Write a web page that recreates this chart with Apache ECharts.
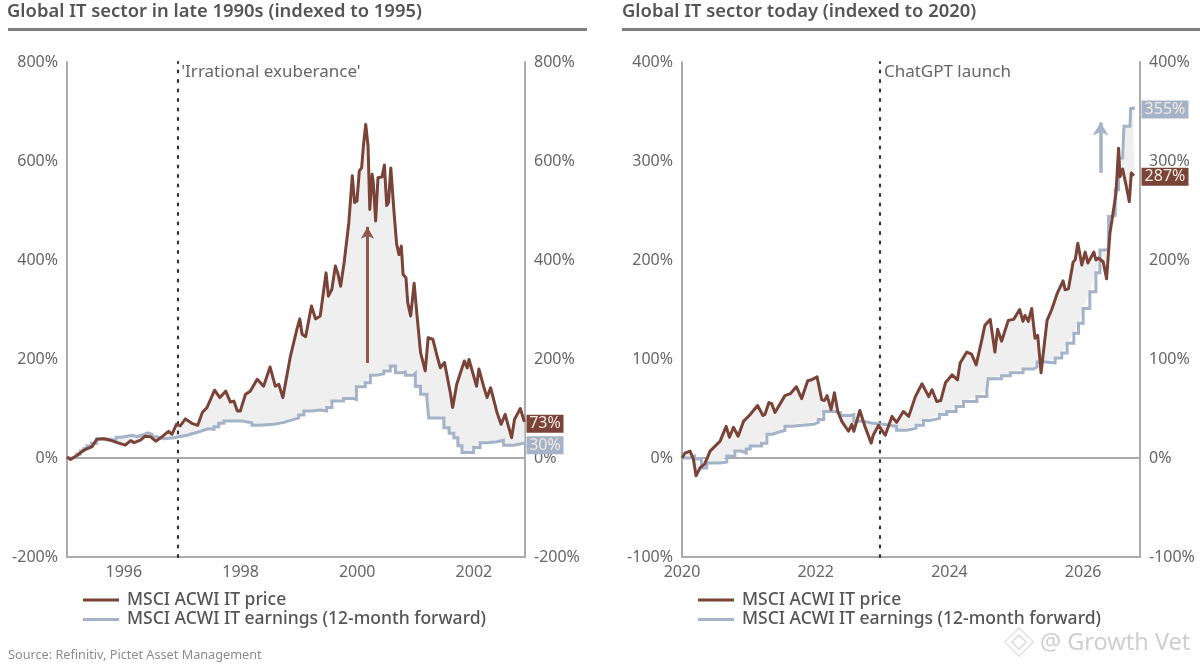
<!DOCTYPE html>
<html><head><meta charset="utf-8">
<style>html,body{margin:0;padding:0;background:#fff}#c{width:1200px;height:667px}</style>
<script src="https://cdn.jsdelivr.net/npm/echarts@6/dist/echarts.min.js"></script>
</head><body><div id="c"></div>
<script>
const titleLeft = "Global IT sector in late 1990s (indexed to 1995)";
const titleRight = "Global IT sector today (indexed to 2020)";
const sourceText = "Source: Refinitiv, Pictet Asset Management";
const watermark = "@ Growth Vet";
const priceName = "MSCI ACWI IT price";
const earningsName = "MSCI ACWI IT earnings (12-month forward)";
const eventLeft = {year: 1996.89, text: "'Irrational exuberance'", textAt: 780};
const eventRight = {year: 2022.96, text: "ChatGPT launch", textAt: 390};
const endLeft = [73, 30];
const endRight = [287, 355];
const arrowLeft = [2000.15, 192, 467];
const arrowRight = [2026.26, 288, 339];

const leftPrice = [[1995,2],[1995.06,-3],[1995.17,5],[1995.29,16],[1995.43,23],[1995.51,38],[1995.63,39],[1995.74,36],[1995.86,31],[1996,26],[1996.09,35],[1996.15,31],[1996.26,36],[1996.34,44],[1996.43,43],[1996.52,34],[1996.63,43],[1996.74,54],[1996.8,48],[1996.875,68],[1996.94,65],[1997.03,79],[1997.14,70],[1997.24,66],[1997.32,92],[1997.4,102],[1997.53,137],[1997.62,122],[1997.72,135],[1997.8,113],[1997.86,115],[1997.92,95],[1997.97,95],[1998.06,129],[1998.14,135],[1998.26,159],[1998.37,145],[1998.48,184],[1998.57,145],[1998.63,149],[1998.7,122],[1998.83,206],[1998.94,260],[1998.99,281],[1999.03,250],[1999.09,245],[1999.19,307],[1999.26,281],[1999.34,287],[1999.44,374],[1999.48,327],[1999.54,341],[1999.6,388],[1999.64,374],[1999.69,347],[1999.75,395],[1999.83,475],[1999.89,570],[1999.93,516],[1999.97,519],[2000.01,580],[2000.05,586],[2000.08,630],[2000.12,674],[2000.16,630],[2000.19,502],[2000.23,573],[2000.25,556],[2000.29,479],[2000.33,566],[2000.4,568],[2000.44,592],[2000.48,510],[2000.51,516],[2000.55,586],[2000.61,489],[2000.65,432],[2000.69,411],[2000.73,428],[2000.76,371],[2000.81,364],[2000.84,314],[2000.89,287],[2000.95,353],[2001,287],[2001.06,213],[2001.14,176],[2001.19,243],[2001.27,240],[2001.35,203],[2001.4,182],[2001.47,193],[2001.57,132],[2001.61,102],[2001.68,149],[2001.81,196],[2001.86,182],[2001.89,199],[2002.02,145],[2002.06,180],[2002.14,145],[2002.2,122],[2002.26,142],[2002.37,92],[2002.44,68],[2002.51,88],[2002.62,41],[2002.67,78],[2002.77,100],[2002.84,73]];

const leftEarnings = [[1995,0],[1995.11,3],[1995.17,8],[1995.23,14],[1995.29,19],[1995.34,24],[1995.42,30],[1995.51,39],[1995.63,38],[1995.74,36],[1995.84,42],[1995.94,46],[1996.11,43],[1996.2,47],[1996.31,51],[1996.38,48],[1996.46,43],[1996.54,39],[1996.66,41],[1996.83,44],[1996.97,46],[1997.06,49],[1997.14,52],[1997.24,56],[1997.34,59],[1997.42,58],[1997.52,63],[1997.6,70],[1997.69,75],[1997.86,75],[1998,71],[1998.17,66],[1998.3,68],[1998.54,70],[1998.63,72],[1998.72,75],[1998.8,78],[1998.89,81],[1998.97,87],[1999.06,95],[1999.2,97],[1999.34,95],[1999.45,102],[1999.54,115],[1999.74,120],[1999.91,118],[1999.96,144],[2000.11,152],[2000.2,167],[2000.3,170],[2000.43,176],[2000.54,186],[2000.63,172],[2000.74,174],[2000.8,167],[2000.93,171],[2000.97,145],[2001.06,129],[2001.17,118],[2001.2,81],[2001.41,81],[2001.46,61],[2001.55,50],[2001.63,41],[2001.7,25],[2001.77,11],[2001.86,11],[2001.97,21],[2002.08,31],[2002.2,33],[2002.37,36],[2002.48,26],[2002.66,30],[2002.84,28]];

const rightPrice = [[2020,0],[2020.045,5],[2020.12,7],[2020.17,-1],[2020.21,-18],[2020.27,-10],[2020.34,-6],[2020.42,7],[2020.57,17],[2020.66,32],[2020.71,21],[2020.77,31],[2020.84,22],[2020.92,37],[2021.02,44],[2021.13,53],[2021.21,43],[2021.24,44],[2021.3,56],[2021.34,55],[2021.39,46],[2021.54,63],[2021.62,65],[2021.71,72],[2021.79,60],[2021.88,78],[2021.94,79],[2022.02,82],[2022.09,59],[2022.13,58],[2022.17,63],[2022.23,49],[2022.28,66],[2022.33,47],[2022.39,37],[2022.49,27],[2022.54,34],[2022.57,27],[2022.66,48],[2022.74,31],[2022.83,15],[2022.86,23],[2022.94,33],[2023.04,23],[2023.14,42],[2023.21,36],[2023.31,47],[2023.39,42],[2023.49,62],[2023.59,75],[2023.69,62],[2023.74,69],[2023.81,57],[2023.87,58],[2023.94,76],[2024.04,84],[2024.12,79],[2024.16,96],[2024.26,107],[2024.33,105],[2024.4,94],[2024.48,118],[2024.53,134],[2024.61,140],[2024.68,107],[2024.72,130],[2024.78,118],[2024.88,139],[2024.96,140],[2025.05,150],[2025.1,138],[2025.13,144],[2025.18,138],[2025.23,151],[2025.28,121],[2025.32,124],[2025.37,86],[2025.46,139],[2025.53,150],[2025.61,166],[2025.7,179],[2025.73,170],[2025.78,171],[2025.85,198],[2025.88,200],[2025.92,217],[2025.98,195],[2026.03,208],[2026.07,197],[2026.16,208],[2026.19,200],[2026.23,202],[2026.3,198],[2026.35,181],[2026.4,227],[2026.43,240],[2026.49,267],[2026.53,313],[2026.55,284],[2026.59,292],[2026.64,276],[2026.69,259],[2026.72,288],[2026.76,285]];

const rightEarnings = [[2020,0],[2020.12,2],[2020.19,-1],[2020.29,-10],[2020.37,-5],[2020.57,-4],[2020.67,2],[2020.79,7],[2020.89,5],[2020.96,9],[2021.02,12],[2021.19,15],[2021.27,24],[2021.35,26],[2021.44,28],[2021.54,32],[2021.64,34],[2021.97,36],[2022.04,39],[2022.12,47],[2022.27,46],[2022.37,43],[2022.52,44],[2022.57,37],[2022.71,35],[2022.86,34],[2023.01,32],[2023.21,28],[2023.36,30],[2023.5,33],[2023.61,38],[2023.71,40],[2023.85,44],[2023.96,47],[2024.1,52],[2024.21,57],[2024.41,62],[2024.56,69],[2024.58,80],[2024.78,83],[2024.91,86],[2025.1,90],[2025.26,92],[2025.31,97],[2025.43,96],[2025.58,101],[2025.68,106],[2025.76,116],[2025.86,126],[2025.93,136],[2026,151],[2026.1,168],[2026.19,187],[2026.25,210],[2026.34,211],[2026.38,244],[2026.43,245],[2026.48,271],[2026.53,303],[2026.59,303],[2026.61,335],[2026.7,336],[2026.71,353],[2026.75,355]];

const yLeft = {min:-200, max:800, interval:200};
const yRight = {min:-100, max:400, interval:100};
const xLeft = {min:1995, max:2002.85};
const xRight = {min:2020, max:2026.85};

const FONT = '"Noto Sans"';
const BROWN = '#7a4338', BLUE = '#a4b3c8', AXIS = '#ababab', TXT = '#666666';

function band(a, b) {
  return (params, api) => {
    if (params.dataIndex !== 0) return null;
    const pts = a.concat(b.slice().reverse()).map(p => api.coord(p));
    return {type:'polygon', shape:{points:pts}, style:{fill:'#efefef'}};
  };
}
const pctLabel = {formatter:'{value}%', color:TXT, fontFamily:FONT, fontSize:16, margin:9};
function xAxes(ext, gi) {
  return [{type:'value', gridIndex:gi, min:ext.min, max:ext.max, interval:1, position:'bottom',
      axisLine:{onZero:false, lineStyle:{color:AXIS,width:2}}, axisTick:{show:false}, splitLine:{show:false},
      axisLabel:{color:TXT, fontFamily:FONT, fontSize:16, margin:7, showMinLabel:true, padding: gi===0 ? [0,3,0,0] : 0,
        formatter:v => (Number.isInteger(v) && v%2===0) ? String(v) : ''}},
    {type:'value', gridIndex:gi, min:ext.min, max:ext.max, interval:1, position:'bottom',
      axisLine:{show:true, onZero:true, onZeroAxisIndex:gi*2, lineStyle:{color:AXIS,width:2}},
      axisTick:{show:false}, splitLine:{show:false}, axisLabel:{show:false}}];
}
function yAxes(ext, gi) {
  return ['left','right'].map(pos => ({type:'value', gridIndex:gi, position:pos, min:ext.min, max:ext.max, interval:ext.interval,
    axisLine:{show:true, lineStyle:{color:AXIS,width:2}}, axisTick:{show:false}, splitLine:{show:false}, axisLabel:pctLabel}));
}
function panel(gi, price, earn, ev, ends, arrowBrown, arrowBlue, xExt) {
  const xi = gi*2, yi = gi*2;
  const boxW = gi===0 ? 37 : 47;
  const boxLabel = (color, offsetY) => ({symbol:'rect', symbolSize:[boxW,18], symbolOffset:[boxW/2+1.5,offsetY], itemStyle:{color},
    label:{show:true, position:'inside', formatter:'{c}%', color:'#f2e8e0', fontFamily:FONT, fontSize:16}});
  return [
    {type:'custom', name:'gap', xAxisIndex:xi, yAxisIndex:yi, z:1, silent:true, clip:false,
      data:[[0]], encode:{x:0,y:0}, renderItem:band(price, earn),
      markLine:{silent:true, symbol:'none', animation:false, z:2,
        lineStyle:{color:'#333',type:[2,7.5],width:2.2,cap:'round'}, label:{show:false},
        data:[{xAxis:ev.year}]},
      markPoint:{silent:true, symbol:'circle', symbolSize:0, animation:false,
        data:[{coord:[ev.year, ev.textAt], value:0,
          label:{show:true, position:'right', distance:4, formatter:ev.text, color:TXT, fontFamily:FONT, fontSize:17}}]}},
    {type:'line', name:earningsName, xAxisIndex:xi, yAxisIndex:yi, z:3, data:earn, step:'end', showSymbol:false,
      lineStyle:{color:BLUE,width:3,join:'miter'}, itemStyle:{color:BLUE}, animation:false, silent:true,
      markLine: arrowBlue ? {silent:true, symbol:['none','arrow'], symbolSize:[12,13], animation:false,
        lineStyle:{color:BLUE,type:'solid',width:3.5}, label:{show:false},
        data:[[{coord:[arrowBlue[0],arrowBlue[1]]},{coord:[arrowBlue[0],arrowBlue[2]]}]]} : undefined,
      markPoint:{silent:true, animation:false, ...boxLabel(BLUE, gi===0 ? 2 : 3),
        data:[{coord:[xExt.max, ends[1]], value:ends[1]}]}},
    {type:'line', name:priceName, xAxisIndex:xi, yAxisIndex:yi, z:4, data:price, showSymbol:false,
      lineStyle:{color:BROWN,width:3,join:'round'}, itemStyle:{color:BROWN}, animation:false, silent:true,
      markLine: arrowBrown ? {silent:true, symbol:['none','arrow'], symbolSize:[10,12], animation:false,
        lineStyle:{color:'#8a5a50',type:'solid',width:3}, label:{show:false},
        data:[[{coord:[arrowBrown[0],arrowBrown[1]]},{coord:[arrowBrown[0],arrowBrown[2]]}]]} : undefined,
      markPoint:{silent:true, animation:false, ...boxLabel(BROWN, gi===0 ? 2 : 3),
        data:[{coord:[xExt.max, ends[0]], value:ends[0]}]}}
  ];
}
const titleStyle = {color:'#555555', fontFamily:FONT, fontSize:18.4, fontWeight:600};
const legendBase = {orient:'vertical', top:591, padding:0, itemWidth:36, itemHeight:3, itemGap:1.5, icon:'rect',
  data:[priceName, earningsName], selectedMode:false,
  textStyle:{color:'#555555', fontFamily:FONT, fontSize:17.5, fontWeight:500, padding:[0,0,0,3]}};
const option = {
  backgroundColor:'#ffffff', animation:false,
  title:[
    {text:titleLeft, left:7, top:3, padding:0, textStyle:titleStyle},
    {text:titleRight, left:622, top:3, padding:0, textStyle:titleStyle},
    {text:sourceText, left:8, top:649, padding:0, textStyle:{color:'#8c8c8c', fontFamily:FONT, fontSize:12.7, fontWeight:400}}
  ],
  grid:[{left:67, width:458, top:62, height:495},{left:682, width:458, top:62, height:495}],
  xAxis:[...xAxes(xLeft,0), ...xAxes(xRight,1)],
  yAxis:[...yAxes(yLeft,0), ...yAxes(yRight,1)],
  legend:[{...legendBase, left:83},{...legendBase, left:698}],
  graphic:[
    {type:'rect', shape:{x:8,y:28,width:579,height:3}, style:{fill:'#7d7d7d'}},
    {type:'rect', shape:{x:622,y:28,width:578,height:3}, style:{fill:'#7d7d7d'}},
    {type:'text', left:1040, top:631, style:{text:watermark, fill:'#cfcfcf', font:'23.5px '+FONT}},
    {type:'group', x:1019, y:642, children:[
      {type:'rect', rotation:Math.PI/4, shape:{x:-5,y:-5,width:10,height:10}, style:{fill:'none',stroke:'#dcdcdc',lineWidth:1.5}},
      {type:'rect', rotation:Math.PI/4, shape:{x:-10,y:-10,width:20,height:20}, style:{fill:'none',stroke:'#e3e3e3',lineWidth:1.5}}
    ]}
  ],
  series:[
    ...panel(0, leftPrice, leftEarnings, eventLeft, endLeft, arrowLeft, null, xLeft),
    ...panel(1, rightPrice, rightEarnings, eventRight, endRight, null, arrowRight, xRight)
  ]
};
// the second x axis of each panel draws the zero line; the right y axes carry the right-hand labels
echarts.init(document.getElementById('c'), null, {renderer:'canvas'}).setOption(option);
</script></body></html>
